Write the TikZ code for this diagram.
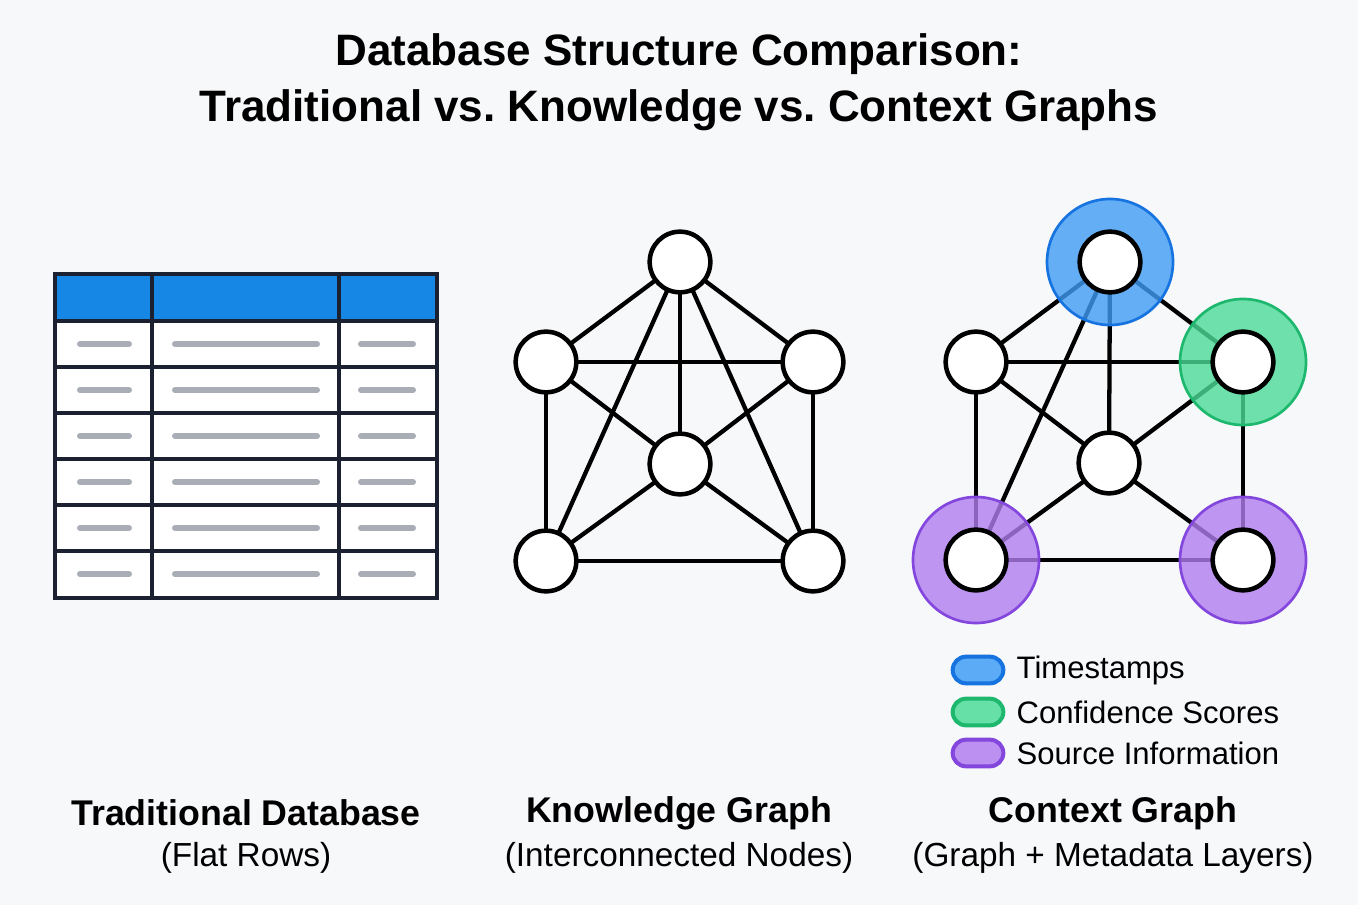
\documentclass[tikz,border=0pt]{standalone}
\usepackage{fontspec}
\setmainfont{Liberation Sans}
\usepackage{xcolor}
\usetikzlibrary{positioning,shapes.geometric}
\frenchspacing

\definecolor{pagebg}{HTML}{F7F8FA}
\definecolor{hdrblue}{HTML}{1787E6}
\definecolor{gridline}{HTML}{1B2130}
\definecolor{cellbar}{HTML}{A9ADB5}
\definecolor{tsfill}{HTML}{3F9CF4}
\definecolor{tsline}{HTML}{1673E0}
\definecolor{cffill}{HTML}{4CDB98}
\definecolor{cfline}{HTML}{1DB86E}
\definecolor{srcfill}{HTML}{B07DEE}
\definecolor{srcline}{HTML}{8447DE}

\pgfdeclarelayer{bg}
\pgfdeclarelayer{edges}
\pgfdeclarelayer{rings}
\pgfsetlayers{bg,edges,rings,main}

\tikzset{
  vert/.style={circle,draw=black,line width=3.4pt,fill=white,inner sep=0pt,minimum size=45.5pt},
  edge/.style={draw=black,line width=3.2pt},
  ring/.style={line width=2pt,fill opacity=0.8},
  pill/.style={rounded corners=10pt,line width=3pt,minimum width=38pt,minimum height=20pt,inner sep=0pt},
  headtxt/.style={font=\bfseries\fontsize{33}{38}\selectfont},
  captxt/.style={font=\bfseries\fontsize{26.8}{32}\selectfont},
  subtxt/.style={font=\fontsize{25}{30}\selectfont},
  legtxt/.style={font=\fontsize{23.3}{28}\selectfont,anchor=west}
}

\begin{document}
\begin{tikzpicture}[x=0.75pt,y=-0.75pt]
  \begin{pgfonlayer}{bg}
    \fill[pagebg] (0,0) rectangle (1358,905);
  \end{pgfonlayer}
  \useasboundingbox (0,0) rectangle (1358,905);

  % title
  \node[headtxt] (ttla) at (679,54) {Database Structure Comparison:};
  \node[headtxt] (ttlb) at (679,110) {Traditional vs. Knowledge vs. Context Graphs};

  % table
  \fill[white] (55,274) rectangle (437,598);
  \fill[hdrblue] (55,274) rectangle (437,321);
  \foreach \y in {321,367,413,459,505,551}
    \draw[gridline,line width=3pt] (55,\y) -- (437,\y);
  \foreach \x in {152,339}
    \draw[gridline,line width=3pt] (\x,274) -- (\x,598);
  \draw[gridline,line width=3pt] (55,274) rectangle (437,598);
  \foreach \y in {344,390,436,482,528,574} {
    \draw[cellbar,line width=4.5pt,line cap=round] (80,\y) -- (129,\y);
    \draw[cellbar,line width=4.5pt,line cap=round] (175,\y) -- (317,\y);
    \draw[cellbar,line width=4.5pt,line cap=round] (361,\y) -- (413,\y);
  }

  % knowledge graph
  \node[vert] (k1) at (680,262) {};
  \node[vert] (k2) at (546,362) {};
  \node[vert] (k3) at (813,362) {};
  \node[vert] (k4) at (680,464) {};
  \node[vert] (k5) at (546,561) {};
  \node[vert] (k6) at (813,561) {};
  \begin{pgfonlayer}{edges}
    \foreach \a/\b in {k1/k2,k1/k3,k1/k4,k1/k5,k1/k6,k2/k3,k2/k4,k3/k4,k2/k5,k3/k6,k4/k5,k4/k6,k5/k6}
      \draw[edge] (\a.center) -- (\b.center);
  \end{pgfonlayer}

  % context graph
  \node[vert] (c1) at (1110,262) {};
  \node[vert] (c2) at (976,362) {};
  \node[vert] (c3) at (1243,362) {};
  \node[vert] (c4) at (1109,463) {};
  \node[vert] (c5) at (976,560) {};
  \node[vert] (c6) at (1243,560) {};
  \begin{pgfonlayer}{edges}
    \foreach \a/\b in {c1/c2,c1/c3,c1/c4,c1/c5,c2/c3,c2/c4,c2/c5,c3/c4,c3/c6,c4/c5,c4/c6,c5/c6}
      \draw[edge] (\a.center) -- (\b.center);
  \end{pgfonlayer}
  \begin{pgfonlayer}{rings}
    \draw[ring,fill=tsfill,draw=tsline] (c1.center) circle[radius=47.25pt];
    \draw[ring,fill=cffill,draw=cfline] (c3.center) circle[radius=47.25pt];
    \draw[ring,fill=srcfill,draw=srcline] (c5.center) circle[radius=47.25pt];
    \draw[ring,fill=srcfill,draw=srcline] (c6.center) circle[radius=47.25pt];
  \end{pgfonlayer}

  % legend
  \node[pill,fill=tsfill!85!white,draw=tsline] (lg1) at (978,670) {};
  \node[pill,fill=cffill!85!white,draw=cfline] (lg2) at (978,712) {};
  \node[pill,fill=srcfill!85!white,draw=srcline] (lg3) at (978,753) {};
  \node[legtxt] (lt1) at (1012,670) {Timestamps};
  \node[legtxt] (lt2) at (1012,712) {Confidence Scores};
  \node[legtxt] (lt3) at (1012,753) {Source Information};

  % captions
  \node[captxt] (cap1) at (246,813) {Traditional Database};
  \node[subtxt] (sub1) at (246,858) {(Flat Rows)};
  \node[captxt] (cap2) at (679,813) {Knowledge Graph};
  \node[subtxt] (sub2) at (679,858) {(Interconnected Nodes)};
  \node[captxt] (cap3) at (1113,813) {Context Graph};
  \node[subtxt] (sub3) at (1113,858) {(Graph + Metadata Layers)};
\end{tikzpicture}
\end{document}
